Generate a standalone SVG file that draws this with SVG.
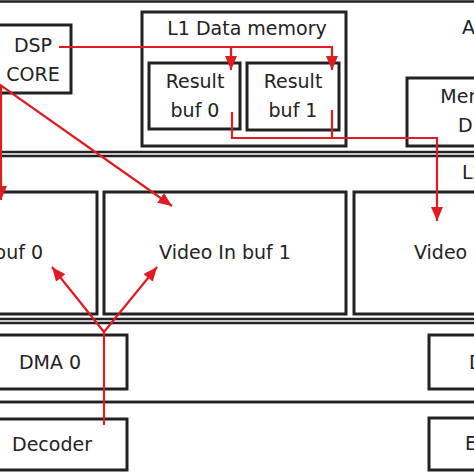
<svg xmlns="http://www.w3.org/2000/svg" width="474" height="474" viewBox="0 0 474 474">
<style>
.region{fill:none;stroke:#222;stroke-width:2.5}
.box{fill:#fff;stroke:#222;stroke-width:3}
.t{font-family:"DejaVu Sans",sans-serif;font-size:19px;fill:#222}
.m{text-anchor:middle}
.w{stroke:#e01b22;stroke-width:2.2;fill:none}
</style>
<defs>
<marker id="ah" markerWidth="14" markerHeight="12" refX="14" refY="6" orient="auto" markerUnits="userSpaceOnUse">
<path d="M0,0 L14,6 L0,12 Z" fill="#e01b22"/>
</marker>
</defs>
<rect width="474" height="474" fill="#fff"/>
<g id="regions">
<rect class="region" x="-10" y="1.5" width="500" height="150.5"/>
<text class="t" x="462" y="34">A</text>
<rect class="region" x="-10" y="156" width="500" height="163"/>
<text class="t" x="462" y="179">L2</text>
<rect class="region" x="-10" y="323" width="500" height="79"/>
<rect class="region" x="-10" y="402" width="500" height="90"/>
</g>
<g id="dsp-core">
<rect class="box" x="-10" y="25" width="81" height="68"/>
<text class="t m" x="33" y="52">DSP</text>
<text class="t m" x="33" y="81">CORE</text>
</g>
<g id="l1-data-memory">
<rect class="box" x="142" y="12" width="204" height="134"/>
<text class="t m" x="247" y="35">L1 Data memory</text>
</g>
<g id="result-buf0">
<rect class="box" x="149" y="63" width="91" height="66"/>
<text class="t m" x="195" y="88">Result</text>
<text class="t m" x="195" y="117">buf 0</text>
</g>
<g id="result-buf1">
<rect class="box" x="247" y="63" width="92" height="67"/>
<text class="t m" x="293" y="88">Result</text>
<text class="t m" x="293" y="117">buf 1</text>
</g>
<g id="memory-dma">
<rect class="box" x="407" y="78" width="90" height="68"/>
<text class="t m" x="479" y="103">Memory</text>
<text class="t m" x="480" y="132">DMA</text>
</g>
<g id="video-in-buf0">
<rect class="box" x="-10" y="192" width="107" height="122"/>
<text class="t" x="43" y="259" text-anchor="end">Video In buf 0</text>
</g>
<g id="video-in-buf1">
<rect class="box" x="104" y="192" width="242" height="122"/>
<text class="t m" x="225" y="259">Video In buf 1</text>
</g>
<g id="video-in-buf2">
<rect class="box" x="354" y="192" width="140" height="122"/>
<text class="t" x="414" y="259">Video In buf 2</text>
</g>
<g id="dma0">
<rect class="box" x="-10" y="335" width="137" height="54"/>
<text class="t m" x="50" y="369">DMA 0</text>
</g>
<g id="dma1">
<rect class="box" x="429" y="335" width="70" height="54"/>
<text class="t" x="469" y="369">DMA 1</text>
</g>
<g id="decoder">
<rect class="box" x="-10" y="419" width="137" height="51"/>
<text class="t m" x="52" y="451">Decoder</text>
</g>
<g id="encoder">
<rect class="box" x="429" y="418" width="70" height="52"/>
<text class="t" x="465" y="450">Encoder</text>
</g>
<g id="connectors">
<path class="w" d="M59,47 H332 V70" marker-end="url(#ah)"/>
<path class="w" d="M231,47 V70" marker-end="url(#ah)"/>
<path class="w" d="M232,112 V138 H437 V221" marker-end="url(#ah)"/>
<path class="w" d="M332,110 V138"/>
<path class="w" d="M1,86 V200" marker-end="url(#ah)"/>
<path class="w" d="M-4,82 L172,206" marker-end="url(#ah)"/>
<path class="w" d="M104,425 V332 L52,267" marker-end="url(#ah)"/>
<path class="w" d="M104,332 L157,267" marker-end="url(#ah)"/>
</g>
</svg>
